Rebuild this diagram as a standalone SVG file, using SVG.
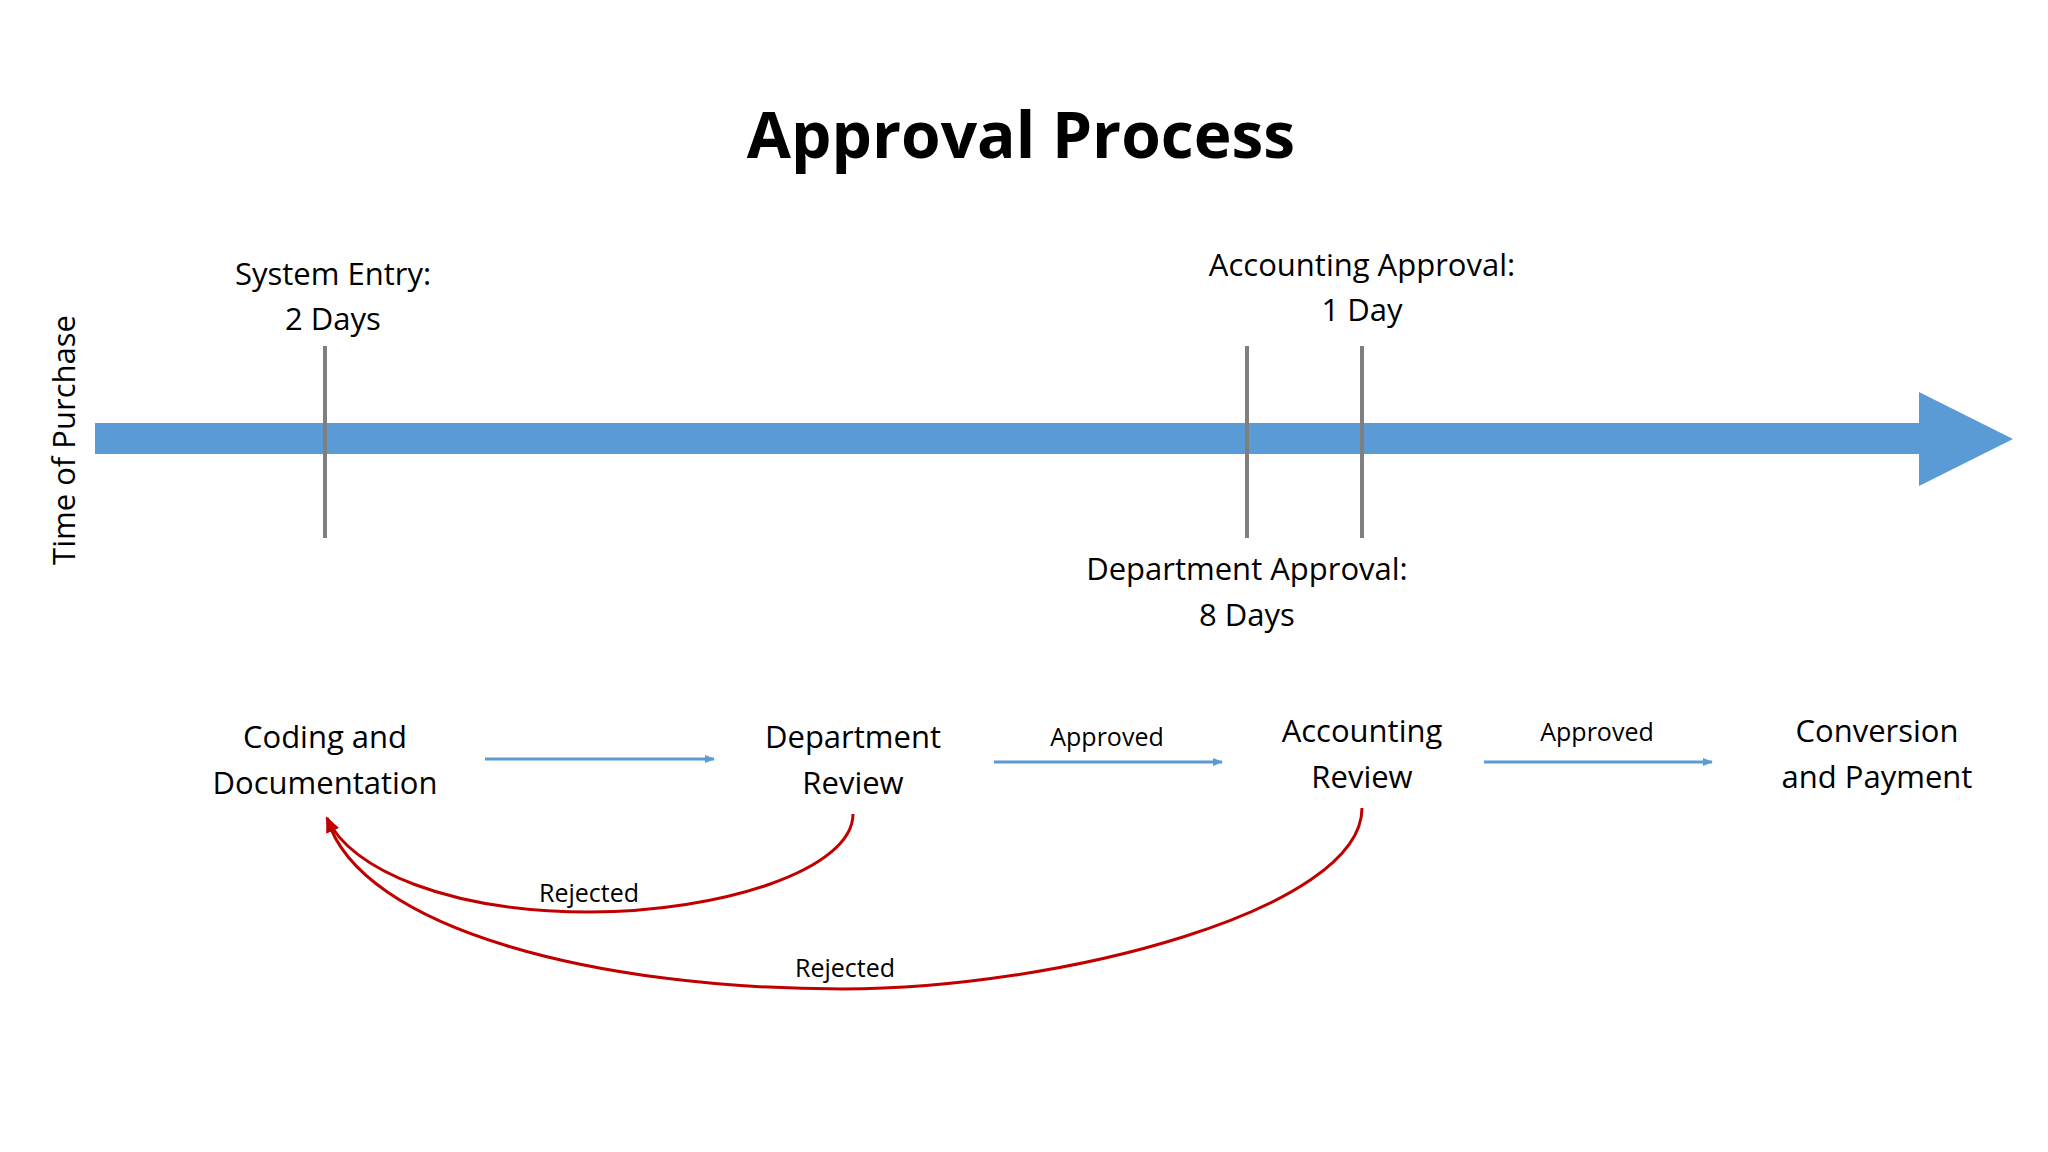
<svg xmlns="http://www.w3.org/2000/svg" width="2048" height="1152" viewBox="0 0 2048 1152">
<style>
text{font-family:"Open Sans","Liberation Sans",sans-serif;fill:#000;text-anchor:middle}
.l{font-size:31px}.s{font-size:25px}
.tick{stroke:#7f7f7f;stroke-width:4}
.blue{stroke:#5b9bd5;stroke-width:3;fill:none;marker-end:url(#ba)}
.red{stroke:#c00000;stroke-width:3;fill:none}
</style>
<defs>
<marker id="ba" markerWidth="10" markerHeight="8" refX="9" refY="4" orient="auto" markerUnits="userSpaceOnUse"><path d="M0,0 L10,4 L0,8 Z" fill="#5b9bd5"/></marker>
<marker id="ra" markerWidth="16" markerHeight="14" refX="14" refY="7" orient="auto" markerUnits="userSpaceOnUse"><path d="M0,0 L16,7 L0,14 Z" fill="#c00000"/></marker>
</defs>
<rect width="2048" height="1152" fill="#fff"/>
<text x="1021" y="158" style="font-size:64px;font-weight:bold">Approval Process</text>
<g id="timeline">
<path d="M95,423 H1919 V392 L2013,439 L1919,486 V454 H95 Z" fill="#5b9bd5"/>
<line class="tick" x1="325" y1="346" x2="325" y2="538"/>
<line class="tick" x1="1247" y1="346" x2="1247" y2="538"/>
<line class="tick" x1="1362" y1="346" x2="1362" y2="538"/>
<text class="l" transform="translate(75,440) rotate(-90)">Time of Purchase</text>
<text class="l" x="333" y="285">System Entry:</text>
<text class="l" x="333" y="330">2 Days</text>
<text class="l" x="1362" y="276">Accounting Approval:</text>
<text class="l" x="1362" y="321">1 Day</text>
<text class="l" x="1247" y="580">Department Approval:</text>
<text class="l" x="1247" y="626">8 Days</text>
</g>
<g id="n1"><text class="l" x="325" y="748">Coding and</text><text class="l" x="325" y="794">Documentation</text></g>
<g id="n2"><text class="l" x="853" y="748">Department</text><text class="l" x="853" y="794">Review</text></g>
<g id="n3"><text class="l" x="1362" y="742">Accounting</text><text class="l" x="1362" y="788">Review</text></g>
<g id="n4"><text class="l" x="1877" y="742">Conversion</text><text class="l" x="1877" y="788">and Payment</text></g>
<g id="connectors">
<line class="blue" x1="485" y1="759" x2="714" y2="759"/>
<line class="blue" x1="994" y1="762" x2="1222" y2="762"/>
<line class="blue" x1="1484" y1="762" x2="1712" y2="762"/>
<text class="s" x="1107" y="746">Approved</text>
<text class="s" x="1597" y="741">Approved</text>
<path class="red" d="M853,814 C853,870 720,912 590,912 C450,912 350,870 327,818" marker-end="url(#ra)"/>
<path class="red" d="M1362,808 C1362,910 1060,989 842,989 C600,989 360,930 327,818"/>
<text class="s" x="589" y="902">Rejected</text>
<text class="s" x="845" y="977">Rejected</text>
</g>
</svg>
